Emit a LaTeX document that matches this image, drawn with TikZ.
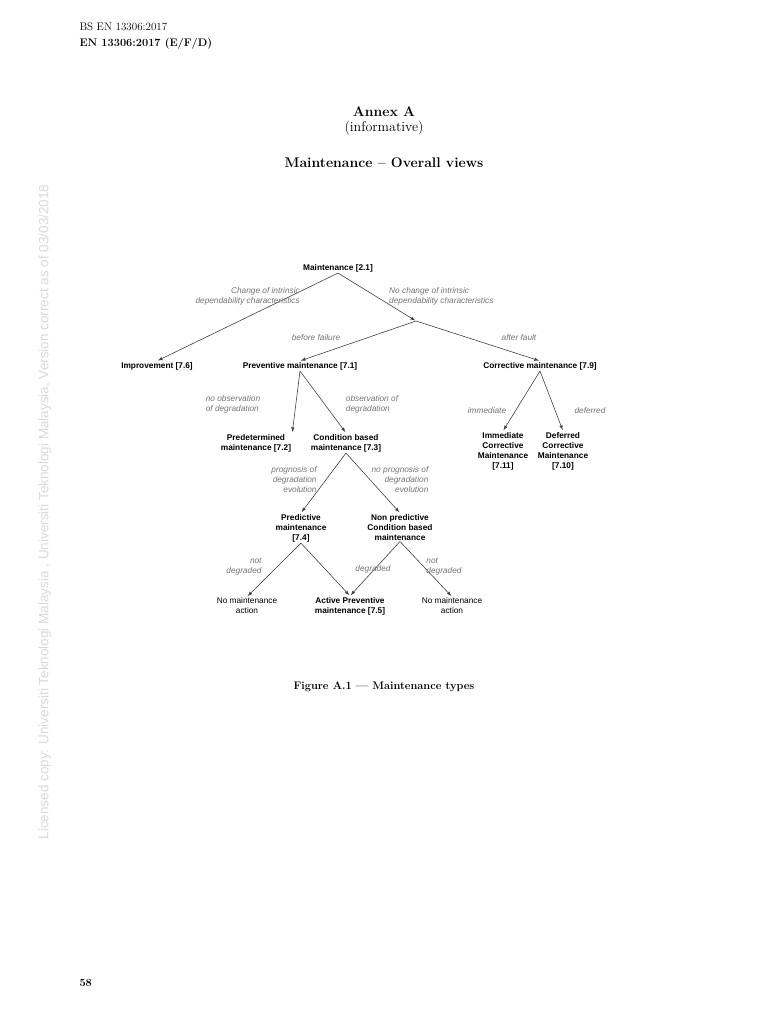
\documentclass[tikz,border=0pt]{standalone}
\usepackage{fontspec}
\newfontfamily\diagfont{Liberation Sans}
\usetikzlibrary{arrows,positioning}
\tikzset{
	%Define standard arrow tip
	>=latex,
	% Define box styles
	kind/.style={font=\diagfont\fontsize{8.3}{10}\selectfont\bfseries, align=center, inner sep=1pt},
	plain/.style={font=\diagfont\fontsize{8.3}{10}\selectfont, align=center, inner sep=1pt},
	why/.style={font=\diagfont\itshape\fontsize{8.3}{10}\selectfont, text=black!55, align=center, inner sep=1pt},
	% Define arrow style
	pil/.style={->, black!75, line width=0.6pt, shorten >=1pt}
}
\begin{document}
\begin{tikzpicture}[x=1pt,y=-1pt]
	\useasboundingbox (0,0) rectangle (768,1024);
	% page furniture
	\node[anchor=west,font=\fontsize{11}{13}\selectfont] (std) at (76,27) {BS EN 13306:2017};
	\node[anchor=west,font=\fontsize{11}{13}\selectfont\bfseries] (std2) at (76,44) {EN 13306:2017 (E/F/D)};
	\node[font=\fontsize{14}{16}\selectfont\bfseries] (annex) at (384,112) {Annex A};
	\node[font=\fontsize{14}{16}\selectfont] (inf) at (384,128) {(informative)};
	\node[font=\fontsize{14}{16}\selectfont\bfseries] (title) at (384,163) {Maintenance -- Overall views};
	\node[font=\fontsize{11}{13}\selectfont\bfseries] (fig) at (384,687) {Figure A.1 --- Maintenance types};
	\node[anchor=west,font=\fontsize{11}{13}\selectfont\bfseries] (page) at (76,983) {58};
	\node[rotate=90,text=black!15,font=\diagfont\fontsize{13.5}{15}\selectfont] (lic) at (45,512) {Licensed copy: Universiti Teknologi Malaysia , Universiti Teknologi Malaysia, Version correct as of 03/03/2018};
	% tree
	\node[kind] (m) at (338,268) {Maintenance [2.1]};
	\coordinate (j) at (416,321);
	\node[kind] (imp) at (157,366) {Improvement [7.6]};
	\node[kind] (prev) at (300,366) {Preventive maintenance [7.1]};
	\node[kind] (corr) at (540,366) {Corrective maintenance [7.9]};
	\node[kind] (pred) at (256,443) {Predetermined\\maintenance [7.2]};
	\node[kind] (cond) at (346,443) {Condition based\\maintenance [7.3]};
	\node[kind,anchor=north] (imm) at (503,431) {Immediate\\Corrective\\Maintenance\\{[7.11]}};
	\node[kind,anchor=north] (def) at (563,431) {Deferred\\Corrective\\Maintenance\\{[7.10]}};
	\node[kind,anchor=north] (pdm) at (301,513) {Predictive\\maintenance\\{[7.4]}};
	\node[kind,anchor=north] (npd) at (400,513) {Non predictive\\Condition based\\maintenance};
	\node[plain] (no1) at (247,606) {No maintenance\\action};
	\node[kind] (act) at (350,606) {Active Preventive\\maintenance [7.5]};
	\node[plain] (no2) at (452,606) {No maintenance\\action};
	% connectors
	\draw[pil] (m.south) -- (imp.north);
	\draw[pil] (m.south) -- (j);
	\draw[pil] (j) -- (prev.north);
	\draw[pil] (j) -- (corr.north);
	\draw[pil] (prev.south) -- (pred.north east);
	\draw[pil] (prev.south) -- (cond.north);
	\draw[pil] (corr.south) -- (imm.north);
	\draw[pil] (corr.south) -- (def.north);
	\draw[pil] (cond.south) -- (pdm.north);
	\draw[pil] (cond.south) -- (npd.north);
	\draw[pil] (pdm.south) -- (no1.north);
	\draw[pil] (pdm.south) -- (act.north);
	\draw[pil] (npd.south) -- (act.north);
	\draw[pil] (npd.south) -- (no2.north);
	% labels
	\node[why,align=right,anchor=east] (l1) at (301,296) {Change of intrinsic\\dependability characteristics};
	\node[why,align=left,anchor=west] (l2) at (388,296) {No change of intrinsic\\dependability characteristics};
	\node[why] (l3) at (316,338) {before failure};
	\node[why] (l4) at (519,338) {after fault};
	\node[why,align=left] (l5) at (233,404) {no observation\\of degradation};
	\node[why,align=left] (l6) at (372,404) {observation of\\degradation};
	\node[why] (l7) at (487,411) {immediate};
	\node[why] (l8) at (590,411) {deferred};
	\node[why,align=right] (l9) at (294,480) {prognosis of\\degradation\\evolution};
	\node[why,align=right] (l10) at (400,480) {no prognosis of\\degradation\\evolution};
	\node[why,align=right] (l11) at (244,567) {not\\degraded};
	\node[why] (l12) at (373,569) {degraded};
	\node[why,align=left] (l13) at (444,567) {not\\degraded};
\end{tikzpicture}
\end{document}
